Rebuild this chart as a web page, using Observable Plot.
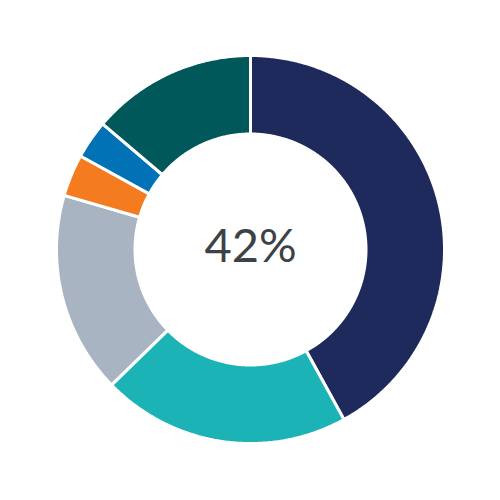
<!DOCTYPE html>
<html>
<head>
<meta charset="utf-8">
<script src="https://cdn.jsdelivr.net/npm/d3@7"></script>
<script src="https://cdn.jsdelivr.net/npm/@observablehq/plot@0.6"></script>
<style>
  html, body { margin: 0; padding: 0; background: #fff; }
  #chart { width: 500px; height: 500px; }
</style>
</head>
<body>
<div id="chart"></div>
<script>
// Data
const categories = ["A", "B", "C", "D", "E", "F"];
const values = [42, 20.7, 16.8, 3.5, 3.2, 13.8];
const colors = ["#1d2a5b", "#1bb3b5", "#a9b4c3", "#f47b20", "#0072b5", "#00585a"];
const centerLabel = "42%";

const R_OUT = 194;
const R_IN = 115.5;

const pie = d3.pie().sort(null).value(d => d.value);
const arcs = pie(categories.map((c, i) => ({category: c, value: values[i]})));

// Build polygon outline per slice in data coordinates
const pts = [];
for (const a of arcs) {
  const n = Math.max(8, Math.ceil((a.endAngle - a.startAngle) * 120));
  const ring = [];
  for (let k = 0; k <= n; k++) {
    const t = a.startAngle + (a.endAngle - a.startAngle) * k / n;
    ring.push([R_OUT * Math.sin(t), R_OUT * Math.cos(t)]);
  }
  for (let k = n; k >= 0; k--) {
    const t = a.startAngle + (a.endAngle - a.startAngle) * k / n;
    ring.push([R_IN * Math.sin(t), R_IN * Math.cos(t)]);
  }
  ring.push(ring[0]);
  for (const [x, y] of ring) pts.push({category: a.data.category, x, y});
}

const chart = Plot.plot({
  width: 500,
  height: 500,
  margin: 0,
  x: {domain: [-250, 250], range: [0, 500], axis: null},
  y: {domain: [-250, 250], range: [499, -1], axis: null},
  color: {domain: categories, range: colors},
  marks: [
    Plot.line(pts, {x: "x", y: "y", z: "category", fill: "category", stroke: "white", strokeWidth: 3, strokeLinejoin: "miter", curve: "linear"}),
    Plot.text([centerLabel], {x: () => 0, y: () => 0, text: d => d, fontSize: 47, fill: "#3d4247", fontFamily: "Lato", dy: -3})
  ],
  style: {background: "white", fontFamily: "Lato"}
});
document.getElementById("chart").appendChild(chart);
</script>
</body>
</html>
